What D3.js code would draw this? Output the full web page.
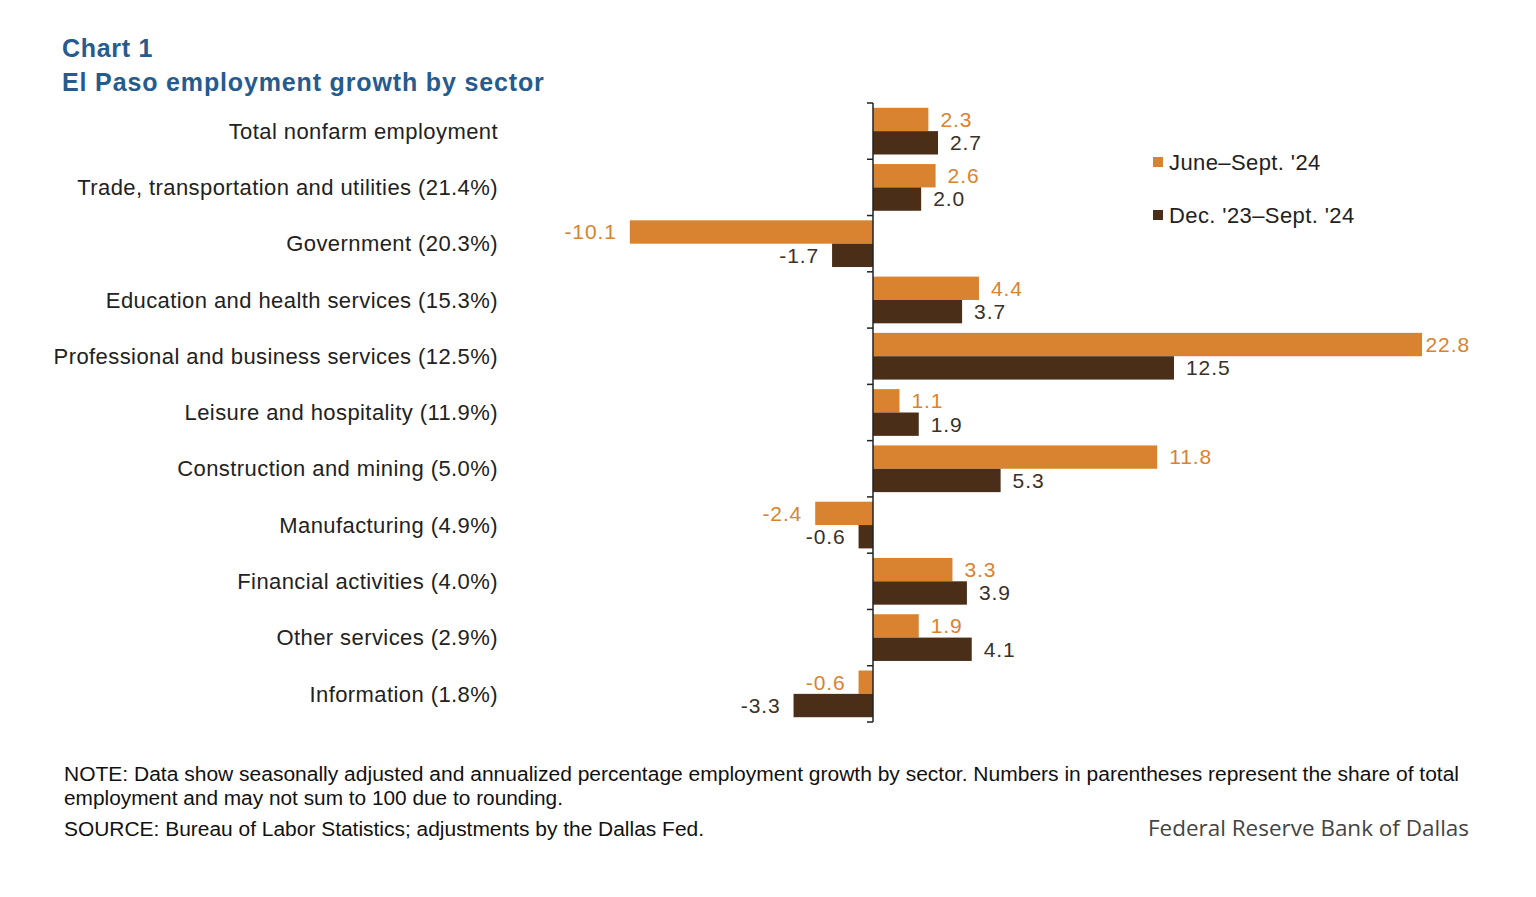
<!DOCTYPE html>
<html>
<head>
<meta charset="utf-8">
<script src="https://cdn.jsdelivr.net/npm/d3@7"></script>
<style>
body { margin: 0; background: #fff; }
text { font-family: "Liberation Sans", Arial, sans-serif; }
</style>
</head>
<body>
<script>
var sectors = ['Total nonfarm employment', 'Trade, transportation and utilities (21.4%)',
  'Government (20.3%)', 'Education and health services (15.3%)',
  'Professional and business services (12.5%)', 'Leisure and hospitality (11.9%)',
  'Construction and mining (5.0%)', 'Manufacturing (4.9%)', 'Financial activities (4.0%)',
  'Other services (2.9%)', 'Information (1.8%)'];
var juneSept = [2.3, 2.6, -10.1, 4.4, 22.8, 1.1, 11.8, -2.4, 3.3, 1.9, -0.6];
var decSept = [2.7, 2.0, -1.7, 3.7, 12.5, 1.9, 5.3, -0.6, 3.9, 4.1, -3.3];
var seriesNames = ['June\u2013Sept. \'24', 'Dec. \'23\u2013Sept. \'24'];

var orange = '#d9822f', brown = '#4a2e18';
var W = 1536, H = 897;

var svg = d3.select('body').append('svg').attr('width', W).attr('height', H);

// title
svg.append('text').attr('x', 62).attr('y', 57).attr('fill', '#255b8e')
  .attr('font-size', 25).attr('font-weight', 'bold').attr('letter-spacing', 0.7).text('Chart 1');
svg.append('text').attr('x', 62).attr('y', 91).attr('fill', '#255b8e')
  .attr('font-size', 25).attr('font-weight', 'bold').attr('letter-spacing', 0.85)
  .text('El Paso employment growth by sector');

var x = d3.scaleLinear().domain([0, 22.8]).range([873, 1422]);
var y = d3.scaleBand().domain(sectors).range([103, 722]).paddingInner(0.17).paddingOuter(0.085);
var y2 = d3.scaleBand().domain([0, 1]).range([0, y.bandwidth()]);

var rows = sectors.map(function(s, i) {
  return { name: s, vals: [juneSept[i], decSept[i]] };
});

var g = svg.selectAll('g.row').data(rows).enter().append('g').attr('class', 'row')
  .attr('transform', function(d) { return 'translate(0,' + y(d.name) + ')'; });

g.selectAll('rect').data(function(d) { return d.vals; }).enter().append('rect')
  .attr('x', function(v) { return x(Math.min(0, v)); })
  .attr('width', function(v) { return Math.abs(x(v) - x(0)); })
  .attr('y', function(v, i) { return y2(i); })
  .attr('height', y2.bandwidth())
  .attr('fill', function(v, i) { return i == 0 ? orange : brown; });

var vals = g.selectAll('text.val').data(function(d) { return d.vals; }).enter().append('text')
  .attr('class', 'val')
  .attr('y', function(v, i) { return y2(i) + y2.bandwidth() / 2; })
  .attr('dy', '0.35em')
  .attr('text-anchor', 'start')
  .attr('font-size', 21)
  .attr('letter-spacing', 0.9)
  .attr('fill', function(v, i) { return i == 0 ? orange : '#3a3128'; })
  .text(function(v) { return v.toFixed(1); });
// keep labels inside the plot's right edge
vals.attr('x', function(v) {
  var w = this.getComputedTextLength();
  if (v < 0) return x(v) - 13 - w;
  return Math.min(x(v) + 12, 1470 - w);
});

// category labels
svg.selectAll('text.cat').data(sectors).enter().append('text').attr('class', 'cat')
  .attr('x', 498)
  .attr('y', function(d) { return y(d) + y.bandwidth() / 2; })
  .attr('dy', '0.35em')
  .attr('text-anchor', 'end')
  .attr('font-size', 22)
  .attr('letter-spacing', 0.42)
  .attr('fill', '#222')
  .text(function(d) { return d; });

// axis line with ticks at category boundaries
var bounds = d3.range(sectors.length + 1).map(function(i) { return 103 + i * (619 / sectors.length); });
var ax = svg.append('g').attr('stroke', '#222').attr('stroke-width', 1.5);
ax.append('line').attr('x1', x(0)).attr('x2', x(0)).attr('y1', 103).attr('y2', 722);
ax.selectAll('line.tk').data(bounds).enter().append('line').attr('class', 'tk')
  .attr('x1', x(0) - 6).attr('x2', x(0)).attr('y1', function(d) { return d; }).attr('y2', function(d) { return d; });

// legend
var leg = svg.selectAll('g.leg').data(seriesNames).enter().append('g').attr('class', 'leg')
  .attr('transform', function(d, i) { return 'translate(1153,' + (162 + i * 53) + ')'; });
leg.append('rect').attr('x', 0).attr('y', -5).attr('width', 10).attr('height', 10)
  .attr('fill', function(d, i) { return i == 0 ? orange : brown; });
leg.append('text').attr('x', 16).attr('dy', '0.35em').attr('font-size', 22)
  .attr('letter-spacing', 0.4).attr('fill', '#222')
  .text(function(d) { return d; });

// footer
var foot = svg.append('g').attr('fill', '#111').attr('font-size', 20);
foot.append('text').attr('x', 64).attr('y', 781)
  .attr('textLength', 1395).attr('lengthAdjust', 'spacingAndGlyphs')
  .text('NOTE: Data show seasonally adjusted and annualized percentage employment growth by sector. Numbers in parentheses represent the share of total');
foot.append('text').attr('x', 64).attr('y', 805)
  .attr('textLength', 499).attr('lengthAdjust', 'spacingAndGlyphs')
  .text('employment and may not sum to 100 due to rounding.');
foot.append('text').attr('x', 64).attr('y', 836)
  .attr('textLength', 640).attr('lengthAdjust', 'spacingAndGlyphs')
  .text('SOURCE: Bureau of Labor Statistics; adjustments by the Dallas Fed.');

svg.append('text').attr('x', 1148).attr('y', 836)
  .attr('textLength', 321).attr('lengthAdjust', 'spacingAndGlyphs')
  .attr('font-size', 21).attr('fill', '#444').style('font-family', '"Open Sans", Lato, sans-serif')
  .text('Federal Reserve Bank of Dallas');
</script>
</body>
</html>
